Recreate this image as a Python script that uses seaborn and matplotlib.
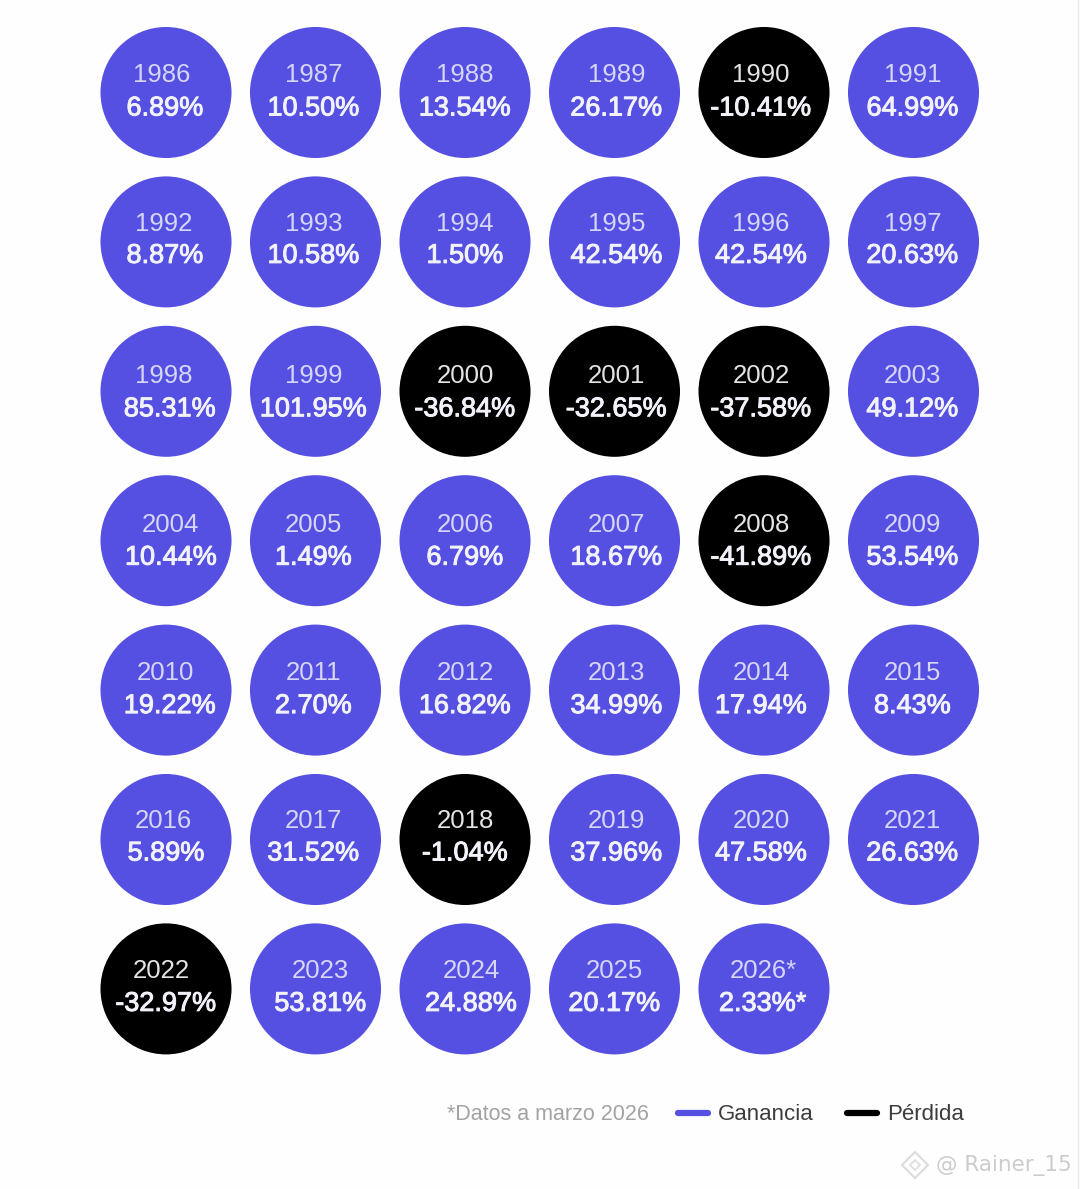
import matplotlib
matplotlib.use('Agg')
import matplotlib.pyplot as plt
import matplotlib.patheffects as pe
from matplotlib.lines import Line2D
import pandas as pd
import seaborn as sns

years = ['1986','1987','1988','1989','1990','1991',
         '1992','1993','1994','1995','1996','1997',
         '1998','1999','2000','2001','2002','2003',
         '2004','2005','2006','2007','2008','2009',
         '2010','2011','2012','2013','2014','2015',
         '2016','2017','2018','2019','2020','2021',
         '2022','2023','2024','2025','2026*']
returns = [6.89,10.50,13.54,26.17,-10.41,64.99,
           8.87,10.58,1.50,42.54,42.54,20.63,
           85.31,101.95,-36.84,-32.65,-37.58,49.12,
           10.44,1.49,6.79,18.67,-41.89,53.54,
           19.22,2.70,16.82,34.99,17.94,8.43,
           5.89,31.52,-1.04,37.96,47.58,26.63,
           -32.97,53.81,24.88,20.17,2.33]
legend_labels = ['Ganancia','Pérdida']
note = '*Datos a marzo 2026'
watermark = '@ Rainer_15'

BLUE = '#5650E2'
BLACK = '#000000'
plt.rcParams['font.family'] = ['Liberation Sans','DejaVu Sans']

df = pd.DataFrame({'year':years,'ret':returns})
df['col'] = df.index % 6
df['row'] = df.index // 6
df['kind'] = ['Pérdida' if r<0 else 'Ganancia' for r in df['ret']]

# the labels are not quite centred in the original, offsets in px
col_nudge = [-1,-2,0,2,-3,-1]
row_year = [-17,-18,-15,-16,-17,-19,-18]
row_pct = [16,14,18,17,16,14,15]
year_x0 = [-4,-2,-2,4,-1,-3,-5]
pct_x0 = [-1,-1,4,5,4,0,0]
last_row = [0,5,6,0,-1]

fig = plt.figure(figsize=(10.8,11.89),dpi=100,facecolor='#fefefe')
ax = fig.add_axes([0,0,1,1])
ax.set_facecolor('#fefefe')
sns.scatterplot(data=df,x='col',y='row',hue='kind',
                palette={'Ganancia':BLUE,'Pérdida':BLACK},
                s=8900,linewidth=0,legend=False,ax=ax)
# one grid step is 149.5 px, first circle centre at (166,92.5)
XS, YS = 149.5, 149.4
ax.set_xlim(-166/XS,(1080-166)/XS)
ax.set_ylim((1189-92.5)/YS,-92.5/YS)
ax.axis('off')

for _,d in df.iterrows():
    c, r = int(d['col']), int(d['row'])
    star = '*' if d['year'].endswith('*') else ''
    dx_y = dx_p = col_nudge[c]
    if c == 0:
        dx_y, dx_p = year_x0[r], pct_x0[r]
    elif r == 6:
        dx_y = dx_p = last_row[c]
    ax.text(c+dx_y/XS,r+row_year[r]/YS,d['year'],color='#d6d6f8' if d['ret']>=0 else '#e4e4e4',
            fontsize=18.5,ha='center',va='center')
    t = ax.text(c+dx_p/XS,r+row_pct[r]/YS,f"{d['ret']:.2f}%{star}",color='#f2f2fb',
                fontsize=19.5,ha='center',va='center')
    t.set_path_effects([pe.withStroke(linewidth=0.7,foreground='#f2f2fb')])

fig.text(548/1080,1-1115/1189,note,color='#a3a3a3',fontsize=15.5,ha='center',va='center')
handles = [Line2D([],[],color=BLUE,lw=4.5,solid_capstyle='round'),
           Line2D([],[],color=BLACK,lw=4.5,solid_capstyle='round')]
ax.legend(handles,legend_labels,ncols=2,frameon=False,fontsize=16,labelcolor='#3c3c3c',
          loc='center left',bbox_to_anchor=(678/1080,1-1115/1189),bbox_transform=fig.transFigure,
          handlelength=1.35,handletextpad=0.45,columnspacing=1.5,borderpad=0,borderaxespad=0)

# watermark
fig.text(1072/1080,1-1165/1189,watermark,color='#cccccc',fontsize=15.5,ha='right',va='center',
         family=['DejaVu Sans'])
fig.add_artist(Line2D([915/1080],[1-1165/1189],marker='D',ms=13,mfc='none',mec='#dcdcdc',mew=1.5,
                      transform=fig.transFigure))
fig.add_artist(Line2D([915/1080],[1-1165/1189],marker='D',ms=5,mfc='none',mec='#dcdcdc',mew=1.2,
                      transform=fig.transFigure))
fig.add_artist(Line2D([1078/1080,1078/1080],[0,1],color='#ececec',lw=1,transform=fig.transFigure))

fig.savefig('out.png',dpi=100,facecolor=fig.get_facecolor())
